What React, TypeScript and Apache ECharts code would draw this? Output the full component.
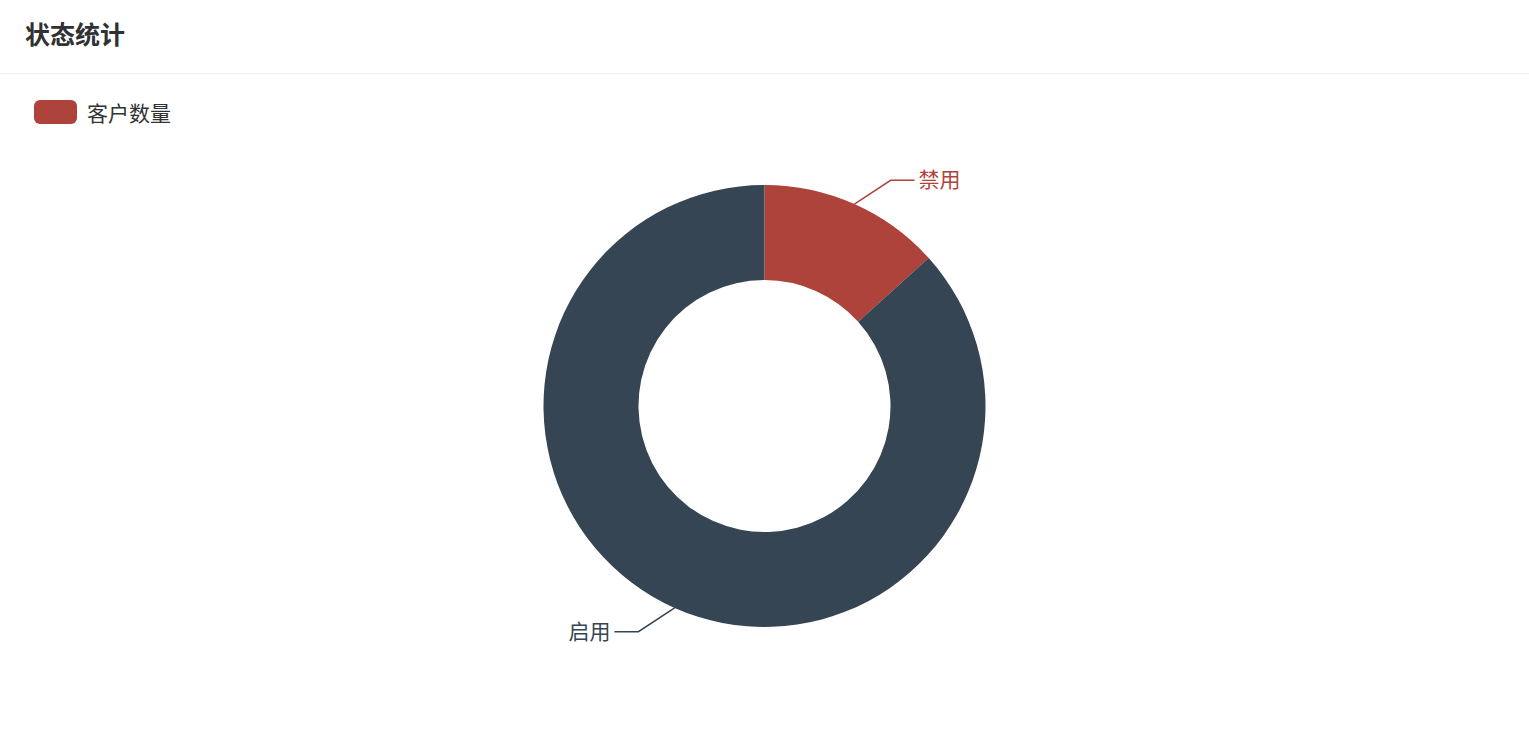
import React, { useEffect, useRef } from "react";
import * as echarts from "echarts";

const title = "状态统计";
const seriesName = "客户数量";
const categories = ["禁用", "启用"];
const values = [2, 13];
const colors = ["#ad433a", "#364553"];

const R_IN = 126;
const R_OUT = 221;
const L1 = 26;
const L2 = 24;

export default function App() {
  const ref = useRef<HTMLDivElement>(null);
  useEffect(() => {
    if (!ref.current) return;
    const chart = echarts.init(ref.current, null, { renderer: "svg" });
    chart.setOption({
      animation: false,
      color: colors,
      textStyle: { fontFamily: "'Noto Sans CJK SC', sans-serif" },
      legend: {
        left: 29,
        top: 21,
        icon: "roundRect",
        itemWidth: 43,
        itemHeight: 24,
        itemGap: 10,
        textStyle: { fontSize: 21, color: "#333", padding: [0, 0, 0, 5] },
        data: [{ name: seriesName, itemStyle: { color: colors[0] } }],
      },
      series: [
        {
          name: seriesName,
          type: "pie",
          center: ["50%", 332],
          radius: [R_IN, R_OUT],
          avoidLabelOverlap: false,
          label: { show: true, position: "outside", fontSize: 21 },
          labelLine: { show: true, length: L1, length2: L2, lineStyle: { width: 1.5 } },
          labelLayout: (p: any) => {
            const pts = p.labelLinePoints;
            if (!pts || pts.length < 3) return {};
            const [p0, p1, p2] = pts;
            const ux = (p1[0] - p0[0]) / L1;
            const uy = (p1[1] - p0[1]) / L1;
            const cx = p0[0] - R_OUT * ux;
            const cy = p0[1] - R_OUT * uy;
            const dir = p2[0] >= p1[0] ? 1 : -1;
            const dy = Math.abs(p1[1] - cy);
            const rr = R_OUT + L1 + L2;
            const dx = dy < rr ? Math.sqrt(rr * rr - dy * dy) : Math.abs(p2[0] - cx);
            const xEnd = cx + dir * dx;
            const y = p1[1];
            return {
              x: xEnd + dir * 4,
              y: y - 2,
              align: dir > 0 ? "left" : "right",
              verticalAlign: "middle",
              labelLinePoints: [p0, [xEnd - dir * L2, y], [xEnd, y]],
            };
          },
          itemStyle: { borderColor: "#fff", borderWidth: 0 },
          data: categories.map((c, i) => ({
            name: c,
            value: values[i],
            label: { color: colors[i] },
            labelLine: { lineStyle: { color: colors[i] } },
          })),
        },
      ],
    });
    return () => chart.dispose();
  }, []);
  return (
    <div
      style={{
        position: "fixed",
        inset: 0,
        background: "#fff",
        borderRadius: 6,
        boxSizing: "border-box",
        fontFamily: "'Noto Sans CJK SC', sans-serif",
      }}
    >
      <div
        style={{
          height: 74,
          boxSizing: "border-box",
          borderBottom: "1px solid #ebeef5",
          display: "flex",
          alignItems: "center",
          paddingLeft: 25,
          paddingBottom: 7,
          fontSize: 25,
          fontWeight: 700,
          color: "#303133",
        }}
      >
        {title}
      </div>
      <div ref={ref} style={{ width: 1529, height: 662 }} />
    </div>
  );
}
